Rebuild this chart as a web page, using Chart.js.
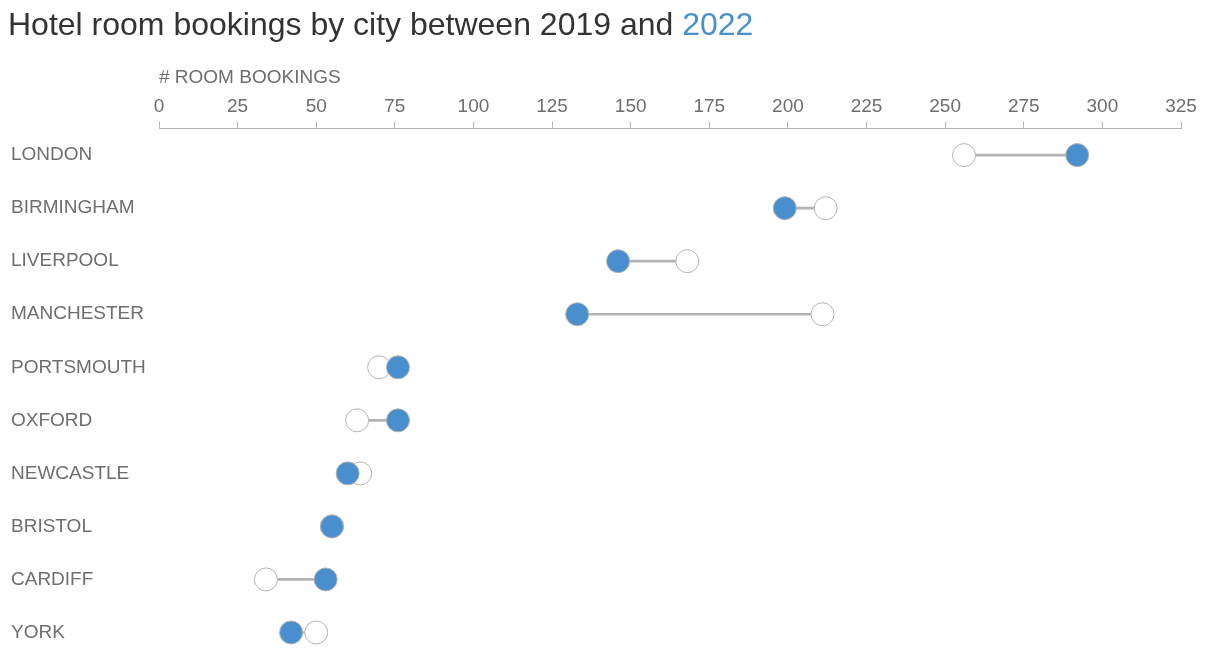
<!DOCTYPE html>
<html>
<head>
<meta charset="utf-8">
<script src="https://cdn.jsdelivr.net/npm/chart.js@4"></script>
<style>
  html, body { margin: 0; padding: 0; background: #fff; }
  #wrap { position: relative; width: 1213px; height: 664px; }
  #title {
    position: absolute; left: 8px; top: 6px;
    font-family: "Liberation Sans", Arial, sans-serif;
    font-size: 32px; color: #333; white-space: nowrap;
  }
  #title span { color: #4a8fcd; }
  canvas { position: absolute; left: 0; top: 0; }
</style>
</head>
<body>
<div id="wrap">
  <canvas id="chart" width="1213" height="664"></canvas>
  <div id="title">Hotel room bookings by city between 2019 and <span>2022</span></div>
</div>
<script>
const cities = ['LONDON', 'BIRMINGHAM', 'LIVERPOOL', 'MANCHESTER', 'PORTSMOUTH', 'OXFORD', 'NEWCASTLE', 'BRISTOL', 'CARDIFF', 'YORK'];
const bookings2019 = [256, 212, 168, 211, 70, 63, 64, 55, 34, 50];
const bookings2022 = [292, 199, 146, 133, 76, 76, 60, 55, 53, 42];
const xTicks = [0, 25, 50, 75, 100, 125, 150, 175, 200, 225, 250, 275, 300, 325];

const blue = '#4a8fcd';
const grey = '#b3b3b3';
const labelColor = '#6e6e6e';
const font = 'Liberation Sans, Arial, sans-serif';

// connector between the two years for each city
const ranges = cities.map((c, i) => [bookings2019[i], bookings2022[i]]);

const ctx = document.getElementById('chart').getContext('2d');
new Chart(ctx, {
    data: {
        labels: cities,
        datasets: [
            {
                type: 'line',
                label: '2022',
                data: bookings2022,
                showLine: false,
                pointRadius: 11.5,
                pointBackgroundColor: blue,
                pointBorderColor: grey,
                pointBorderWidth: 1,
                order: 1
            },
            {
                type: 'line',
                label: '2019',
                data: bookings2019,
                showLine: false,
                pointRadius: 11.5,
                pointBackgroundColor: '#ffffff',
                pointBorderColor: grey,
                pointBorderWidth: 1,
                order: 2
            },
            {
                type: 'bar',
                label: 'change',
                data: ranges,
                backgroundColor: grey,
                borderWidth: 0,
                barThickness: 2,
                order: 3
            }
        ]
    },
    options: {
        indexAxis: 'y',
        responsive: false,
        animation: false,
        events: [],
        layout: {
            autoPadding: false,
            padding: { top: 66, left: 11, right: 32, bottom: 5 }
        },
        plugins: {
            legend: { display: false },
            tooltip: { enabled: false }
        },
        scales: {
            x: {
                type: 'linear',
                position: 'top',
                min: 0,
                max: 325,
                afterBuildTicks: scale => {
                    scale.ticks = xTicks.map(v => ({ value: v }));
                },
                grid: {
                    drawOnChartArea: false,
                    drawTicks: true,
                    tickLength: 7,
                    color: grey
                },
                border: { display: true, color: grey },
                ticks: {
                    color: labelColor,
                    padding: 3,
                    maxRotation: 0,
                    font: { family: font, size: 19 }
                },
                title: {
                    display: true,
                    text: '# ROOM BOOKINGS',
                    align: 'start',
                    color: labelColor,
                    padding: { top: 0, bottom: 4 },
                    font: { family: font, size: 19 }
                }
            },
            y: {
                type: 'category',
                offset: true,
                grid: { display: false },
                border: { display: false },
                afterFit: scale => { scale.width = 148; },
                ticks: {
                    crossAlign: 'far',
                    padding: 0,
                    color: labelColor,
                    // small line height so the end labels don't reserve room
                    font: { family: font, size: 19, lineHeight: 0.5 }
                }
            }
        }
    }
});
</script>
</body>
</html>
